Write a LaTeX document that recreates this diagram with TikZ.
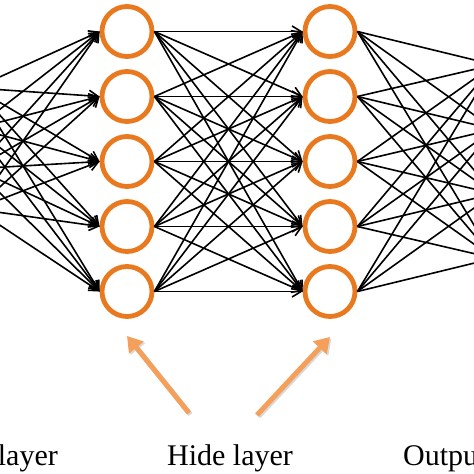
\documentclass[tikz,border=0pt]{standalone}
\usepackage{fontspec}
\setmainfont{Liberation Serif}
\usetikzlibrary{arrows.meta}
\definecolor{nodeorange}{HTML}{E8791E}
\definecolor{pointorange}{HTML}{F5A05A}
\begin{document}
\begin{tikzpicture}[x=1pt,y=-1pt,
  neuron/.style={circle,draw=nodeorange,line width=4.8pt,minimum size=50pt,inner sep=0pt,fill=white},
  link/.style={draw=black,line width=1.6pt,-{Straight Barb[length=9pt,width=11pt,line width=1.6pt]}},
  pointer/.style={draw=pointorange,line width=5pt,-{Triangle[length=15pt,width=18pt]}},
  pshadow/.style={draw=black!15,line width=5pt,-{Triangle[length=15pt,width=18pt]}},
  lab/.style={font=\fontsize{30}{36}\selectfont,inner sep=0pt}]
\useasboundingbox (0,0) rectangle (474,474);
\clip (0,0) rectangle (474,474);
\foreach \i/\y in {1/31.5,2/96.5,3/161.5,4/226.5,5/291.5} {
  \node[neuron] (a\i) at (127,\y) {};
  \node[neuron] (b\i) at (330,\y) {};
}
\foreach \i/\y in {1/88,2/128.3,3/168.7,4/209} \coordinate (in\i) at (-24.5,\y);
\foreach \i/\y in {1/64.75,2/129.25,3/193.75,4/258.25} \coordinate (out\i) at (494,\y);
\foreach \i in {1,...,4} \foreach \j in {1,...,5} \draw[link] (in\i) -- (a\j.west);
\foreach \i in {1,...,5} \foreach \j in {1,...,5} \draw[link] (a\i.east) -- (b\j.west);
\foreach \i in {1,...,5} \foreach \j in {1,...,4} \draw[link] (b\i.east) -- (out\j);
\coordinate (p1) at (189,413);
\coordinate (p2) at (257,415);
\draw[pshadow,transform canvas={xshift=1.5pt,yshift=-1.5pt}] (p1) -- ([yshift=-17pt]a5.south);
\draw[pshadow,transform canvas={xshift=1.5pt,yshift=-1.5pt}] (p2) -- ([yshift=-18pt]b5.south);
\draw[pointer] (p1) -- ([yshift=-17pt]a5.south);
\draw[pointer] (p2) -- ([yshift=-18pt]b5.south);
\node[lab,anchor=base east] (inlab) at (58,465) {Input layer};
\node[lab,anchor=base] (hidlab) at (230,465) {Hide layer};
\node[lab,anchor=base west] (outlab) at (403,465) {Output layer};
\end{tikzpicture}
\end{document}
